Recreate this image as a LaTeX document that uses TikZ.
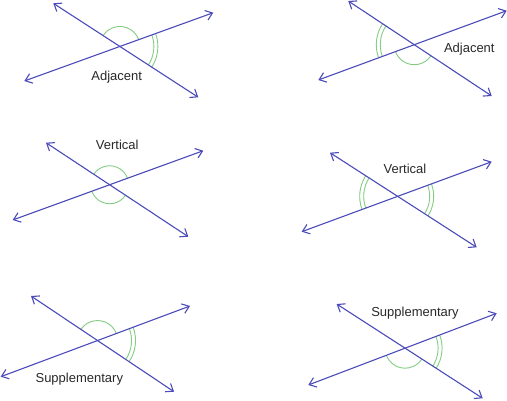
\documentclass[tikz,border=0pt]{standalone}
\usepackage{fontspec}
\setmainfont{Liberation Sans}
\usetikzlibrary{arrows.meta}
\definecolor{lineblue}{RGB}{75,75,185}
\definecolor{arcgreen}{RGB}{130,205,130}
\definecolor{txtgray}{RGB}{40,40,40}
\tikzset{
  ln/.style={draw=lineblue, line width=1.1pt, {Straight Barb[length=6.5pt,width=10pt]}-{Straight Barb[length=6.5pt,width=10pt]}},
  ang/.style={draw=arcgreen, line width=0.9pt},
  lbl/.style={text=txtgray, font=\fontsize{13}{15}\selectfont, inner sep=0pt}
}
\begin{document}
\begin{tikzpicture}[x=1pt,y=-1pt]
\useasboundingbox (0,0) rectangle (507,400);

% ---------- Panel 1: Adjacent (top-left)
\coordinate (a1s) at (53.3,3.3);  \coordinate (a1e) at (198.3,97.3);
\coordinate (b1s) at (24.3,81);   \coordinate (b1e) at (213.3,12.7);
\coordinate (c1) at (intersection of a1s--a1e and b1s--b1e);
\draw[ang] (c1) ++(213:20) arc[start angle=213, end angle=340.1, radius=20];
\draw[ang] (c1) ++(-19.9:34) arc[start angle=-19.9, end angle=33, radius=34];
\draw[ang] (c1) ++(-19.9:38) arc[start angle=-19.9, end angle=33, radius=38];
\draw[ln] (a1s) -- (a1e);
\draw[ln] (b1s) -- (b1e);
\node[lbl] (t1) at (116.7,77.3) {Adjacent};

% ---------- Panel 2: Adjacent (top-right)
\coordinate (a2s) at (348.3,1);   \coordinate (a2e) at (491.7,96);
\coordinate (b2s) at (318.3,80);  \coordinate (b2e) at (506.7,10.7);
\coordinate (c2) at (intersection of a2s--a2e and b2s--b2e);
\draw[ang] (c2) ++(33.5:20) arc[start angle=33.5, end angle=159.8, radius=20];
\draw[ang] (c2) ++(159.8:34) arc[start angle=159.8, end angle=213.5, radius=34];
\draw[ang] (c2) ++(159.8:38) arc[start angle=159.8, end angle=213.5, radius=38];
\draw[ln] (a2s) -- (a2e);
\draw[ln] (b2s) -- (b2e);
\node[lbl] (t2) at (469.3,49.3) {Adjacent};

% ---------- Panel 3: Vertical (middle-left)
\coordinate (a3s) at (46,142.7);  \coordinate (a3e) at (188.3,236.7);
\coordinate (b3s) at (12.7,220);  \coordinate (b3e) at (203.3,150.7);
\coordinate (c3) at (intersection of a3s--a3e and b3s--b3e);
\draw[ang] (c3) ++(213.4:19) arc[start angle=213.4, end angle=340, radius=19];
\draw[ang] (c3) ++(33.4:19) arc[start angle=33.4, end angle=160, radius=19];
\draw[ln] (a3s) -- (a3e);
\draw[ln] (b3s) -- (b3e);
\node[lbl] (t3) at (117.3,145) {Vertical};

% ---------- Panel 4: Vertical (middle-right)
\coordinate (a4s) at (330,152.7); \coordinate (a4e) at (476.7,247.3);
\coordinate (b4s) at (301.7,231.7); \coordinate (b4e) at (491.7,161.7);
\coordinate (c4) at (intersection of a4s--a4e and b4s--b4e);
\draw[ang] (c4) ++(159.8:34) arc[start angle=159.8, end angle=212.8, radius=34];
\draw[ang] (c4) ++(159.8:38) arc[start angle=159.8, end angle=212.8, radius=38];
\draw[ang] (c4) ++(-20.2:32) arc[start angle=-20.2, end angle=32.8, radius=32];
\draw[ang] (c4) ++(-20.2:36) arc[start angle=-20.2, end angle=32.8, radius=36];
\draw[ln] (a4s) -- (a4e);
\draw[ln] (b4s) -- (b4e);
\node[lbl] (t4) at (405,169.3) {Vertical};

% ---------- Panel 5: Supplementary (bottom-left)
\coordinate (a5s) at (31,296);    \coordinate (a5e) at (174,391.7);
\coordinate (b5s) at (0.7,376.7); \coordinate (b5e) at (190,306);
\coordinate (c5) at (intersection of a5s--a5e and b5s--b5e);
\draw[ang] (c5) ++(213.8:20) arc[start angle=213.8, end angle=339.5, radius=20];
\draw[ang] (c5) ++(-20.5:34) arc[start angle=-20.5, end angle=33.8, radius=34];
\draw[ang] (c5) ++(-20.5:38) arc[start angle=-20.5, end angle=33.8, radius=38];
\draw[ln] (a5s) -- (a5e);
\draw[ln] (b5s) -- (b5e);
\node[lbl] (t5) at (79.3,379.3) {Supplementary};

% ---------- Panel 6: Supplementary (bottom-right)
\coordinate (a6s) at (336.7,304); \coordinate (a6e) at (482.7,398.3);
\coordinate (b6s) at (308.3,385); \coordinate (b6e) at (496.7,313.3);
\coordinate (c6) at (intersection of a6s--a6e and b6s--b6e);
\draw[ang] (c6) ++(32.9:20) arc[start angle=32.9, end angle=159.2, radius=20];
\draw[ang] (c6) ++(-20.8:33) arc[start angle=-20.8, end angle=32.9, radius=33];
\draw[ang] (c6) ++(-20.8:37) arc[start angle=-20.8, end angle=32.9, radius=37];
\draw[ln] (a6s) -- (a6e);
\draw[ln] (b6s) -- (b6e);
\node[lbl] (t6) at (415,313.3) {Supplementary};
\end{tikzpicture}
\end{document}
